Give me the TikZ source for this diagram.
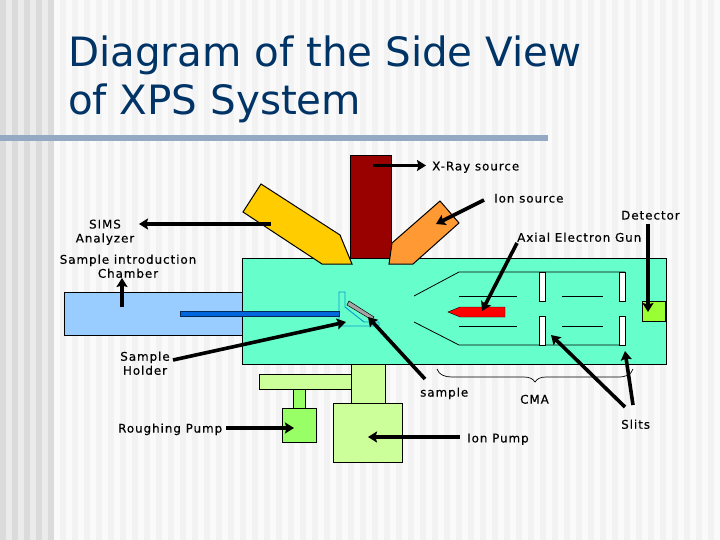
\documentclass[tikz,border=0pt]{standalone}
\usepackage{fontspec}
\setmainfont{DejaVu Sans}
\newfontfamily\lblfont[LetterSpace=8,FakeBold=0.35]{DejaVu Sans}
\usetikzlibrary{arrows.meta}
\definecolor{titleblue}{HTML}{003366}
\definecolor{barblue}{HTML}{93A9C4}
\definecolor{chamber}{HTML}{66FFCC}
\definecolor{ltgreen}{HTML}{CCFF99}
\definecolor{midgreen}{HTML}{99FF66}
\definecolor{detgreen}{HTML}{99FF33}
\definecolor{introblue}{HTML}{99CCFF}
\definecolor{rodblue}{HTML}{0066DD}
\definecolor{holder}{HTML}{0099CC}
\definecolor{xray}{HTML}{990000}
\definecolor{yel}{HTML}{FFCC00}
\definecolor{org}{HTML}{FF9933}
\tikzset{
  x=1pt,y=-1pt,
  part/.style={draw=black,line width=1pt,line join=miter},
  lbl/.style={font=\lblfont\fontsize{11.9}{14}\selectfont,text=black,inner sep=0pt,align=center},
  ptr/.style={draw=black,line width=3.6pt,-{Stealth[length=9pt,width=11pt,inset=1.5pt]}},
  thin line/.style={draw=black,line width=0.8pt},
  slit/.style={fill=white,draw=black,line width=0.5pt},
  titletext/.style={font=\fontsize{40.4}{48}\selectfont,text=titleblue,inner sep=0pt,anchor=west}
}
\begin{document}
\begin{tikzpicture}
\useasboundingbox (0,0) rectangle (720,540);
% background
\fill[black!2] (0,0) rectangle (720,540);
\foreach \i in {0,12,...,708}{\fill[black!5] (\i,0) rectangle (\i+6,540);}
\fill[black!8] (0,0) rectangle (53,540);
\foreach \i in {0,12,24,36,48}{\fill[black!14] (\i,0) rectangle (\i+6,540);}
\fill[barblue] (0,135) rectangle (548,141);
% title
\node[titletext] (t1) at (68,55.5) {Diagram of the Side View};
\node[titletext] (t2) at (68,103) {of XPS System};
% apparatus
\path[part,fill=introblue] (64,292) rectangle (242,335);
\node[part,fill=chamber,minimum width=424pt,minimum height=106pt,inner sep=0pt,anchor=north west] (main) at (242,258) {};
\path[part,fill=ltgreen] (351,364) rectangle (385,403);
\path[part,fill=ltgreen] (259,374) rectangle (351,389);
\path[part,fill=midgreen] (293,389) rectangle (305,408);
\node[part,fill=midgreen,minimum width=34pt,minimum height=34pt,inner sep=0pt,anchor=north west] (rough) at (282,408) {};
\node[part,fill=ltgreen,minimum width=69pt,minimum height=59pt,inner sep=0pt,anchor=north west] (ionpump) at (333,403) {};
\path[part,fill=xray] (350,156) rectangle (391,258);
\path[part,fill=yel] (261,184) -- (340,235) -- (352,264) -- (322,264) -- (243,212) -- cycle;
\path[part,fill=org] (440,201) -- (459,223) -- (413,264) -- (389,264) -- (392,243) -- cycle;
% sample holder
\draw[holder,line width=0.9pt] (339,292) -- (345,292) -- (345,307) -- (364,322) -- (379,322) -- (379,326) -- (339,326) -- cycle;
\fill[rodblue,draw=black!60!rodblue,line width=0.4pt] (180,311.5) rectangle (339,316.5);
\path[draw=black,line width=0.5pt,fill=black!35] (349,301) -- (374,317) -- (372,320) -- (347,305) -- cycle;
% CMA
\draw[thin line] (414,296) -- (459,272) -- (625,272);
\draw[thin line] (414,322) -- (459,345) -- (625,345);
\draw[thin line] (459,296) -- (517,296);
\draw[thin line] (459,326) -- (517,326);
\draw[thin line] (562,296) -- (603,296);
\draw[thin line] (562,326) -- (603,326);
\path[slit] (539,272) rectangle (545,301);
\path[slit] (539,316) rectangle (545,345);
\path[slit] (619,272) rectangle (625,301);
\path[slit] (619,316) rectangle (625,345);
\path[draw=black,line width=0.4pt,fill=red] (448,312) -- (460,307) -- (505,307) -- (505,317) -- (460,317) -- cycle;
\path[part,fill=detgreen,line width=0.5pt] (642,301) rectangle (665.5,321);
% brace
\draw[black,line width=0.7pt] (437,369) .. controls (439,375) and (445,377) .. (452,377) -- (524,377) .. controls (530,377) and (533,379) .. (535,382) .. controls (537,379) and (540,377) .. (546,377) -- (618,377) .. controls (626,377) and (631,375) .. (633,369);
% labels
\node[lbl,anchor=west] (lxray) at (432,167.3) {X-Ray source};
\node[lbl,anchor=west] (lion) at (494,198.3) {Ion source};
\node[lbl,anchor=west] (ldet) at (621,215.3) {Detector};
\node[lbl,anchor=west] (lgun) at (517,237.3) {Axial Electron Gun};
\node[lbl] (lsims) at (105,232.3) {SIMS\\Analyzer};
\node[lbl] (lintro) at (128,266.3) {Sample introduction\\Chamber};
\node[lbl] (lholder) at (145,363.3) {Sample\\Holder};
\node[lbl,anchor=west] (lsample) at (420,393.3) {sample};
\node[lbl,anchor=west] (lcma) at (520,399.3) {CMA};
\node[lbl,anchor=west] (lrough) at (118,429.3) {Roughing Pump};
\node[lbl,anchor=west] (lpump) at (467,439.3) {Ion Pump};
\node[lbl,anchor=west] (lslits) at (621,424.3) {Slits};
% pointer ends
\coordinate (a1) at (373,165.5); \coordinate (a2) at (426,165.5);
\coordinate (b1) at (271,224); \coordinate (b2) at (139,224);
\coordinate (c1) at (484,200); \coordinate (c2) at (436,224);
\coordinate (d1) at (517,243); \coordinate (d2) at (482,311);
\coordinate (e1) at (648,224); \coordinate (e2) at (648,312);
\coordinate (f1) at (625,407); \coordinate (f2) at (551,335);
\coordinate (g1) at (633,405); \coordinate (g2) at (625,351);
\coordinate (h1) at (122,307); \coordinate (h2) at (122,278);
\coordinate (i1) at (173,360); \coordinate (i2) at (346,322);
\coordinate (j1) at (425,379); \coordinate (j2) at (368,317);
\coordinate (k1) at (226,428); \coordinate (k2) at (294,428);
\coordinate (l1) at (460,437); \coordinate (l2) at (368,437);
\foreach \p in {a,b,c,d,e,f,g,h,i,j,k,l}{\draw[ptr] (\p1) -- (\p2);}
\end{tikzpicture}
\end{document}
